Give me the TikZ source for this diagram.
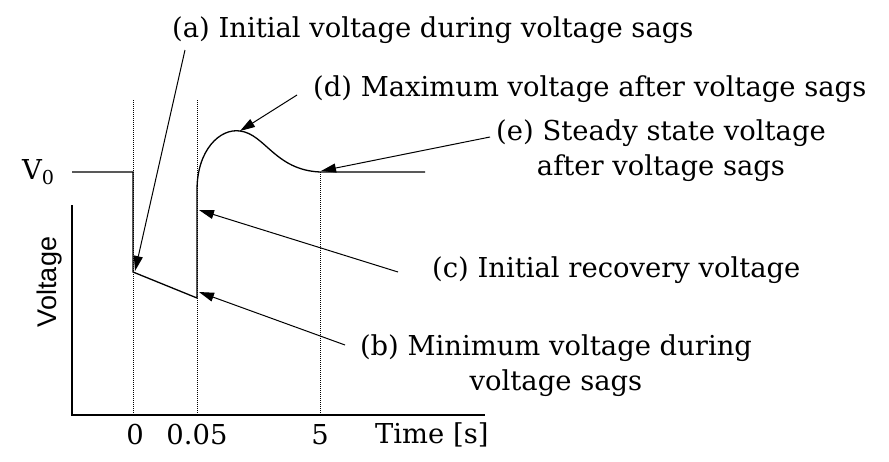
\documentclass[tikz,border=0pt]{standalone}
\usepackage{fontspec}
\setmainfont{DejaVu Serif}
\newfontfamily\arialf{Liberation Sans}
\usetikzlibrary{arrows.meta}
\begin{document}
\begin{tikzpicture}[x=1pt,y=-1pt,
  lbl/.style={font=\fontsize{27.4}{35}\selectfont,inner sep=0pt},
  ptr/.style={-{Triangle[length=15pt,width=9pt]},line width=1pt},
  guide/.style={densely dotted,line width=1pt},
  sig/.style={line width=1.3pt}]
\useasboundingbox (0,0) rectangle (889,461);
\coordinate (o) at (72,415);
\coordinate (ytop) at (72,205);
\coordinate (xend) at (485,415);
\draw[line width=1.3pt] (ytop) -- (o) -- (xend);
\coordinate (s0) at (72,172);
\coordinate (s1) at (133,172);
\coordinate (s2) at (133,272);
\coordinate (s3) at (197,298);
\coordinate (s4) at (197,190);
\coordinate (pk) at (240,131);
\coordinate (s5) at (320,172);
\coordinate (s6) at (425,172);
\draw[sig] (s0) -- (s1) -- (s2) -- (s3) -- (s4)
  .. controls (197,150) and (220,128) .. (pk)
  .. controls (265,134) and (275,170) .. (s5) -- (s6);
\draw[guide] (133,100) -- (133,415);
\draw[guide] (197,100) -- (197,415);
\draw[guide] (320,172) -- (320,415);
\node[lbl,anchor=west] (v0) at (22,172) {V\textsubscript{0}};
\node[font=\arialf\fontsize{27}{30}\selectfont,rotate=90,inner sep=0pt] (vl) at (50,282) {Voltage};
\node[lbl] (t0) at (135,435) {0};
\node[lbl] (t1) at (197,435) {0.05};
\node[lbl] (t2) at (320,435) {5};
\node[lbl,anchor=west] (tt) at (375,435) {Time [s]};
\node[lbl,anchor=west] (la) at (172,30) {(a) Initial voltage during voltage sags};
\node[lbl,anchor=west] (ld) at (313,89) {(d) Maximum voltage after voltage sags};
\node[lbl,align=center] (le) at (661,151) {(e) Steady state voltage\\after voltage sags};
\node[lbl,anchor=west] (lc) at (432,270) {(c) Initial recovery voltage};
\node[lbl,align=center] (lb) at (556,366) {(b) Minimum voltage during\\voltage sags};
\coordinate (aa) at (185,50);
\coordinate (ab) at (345,345);
\coordinate (ac) at (398,272);
\coordinate (ad) at (297,95);
\coordinate (ae) at (490,137);
\draw[ptr] (aa) -- (135,271);
\draw[ptr] (ab) -- (199,292);
\draw[ptr] (ac) -- (199,210);
\draw[ptr] (ad) -- (240,131);
\draw[ptr] (ae) -- (321,171);
\end{tikzpicture}
\end{document}
